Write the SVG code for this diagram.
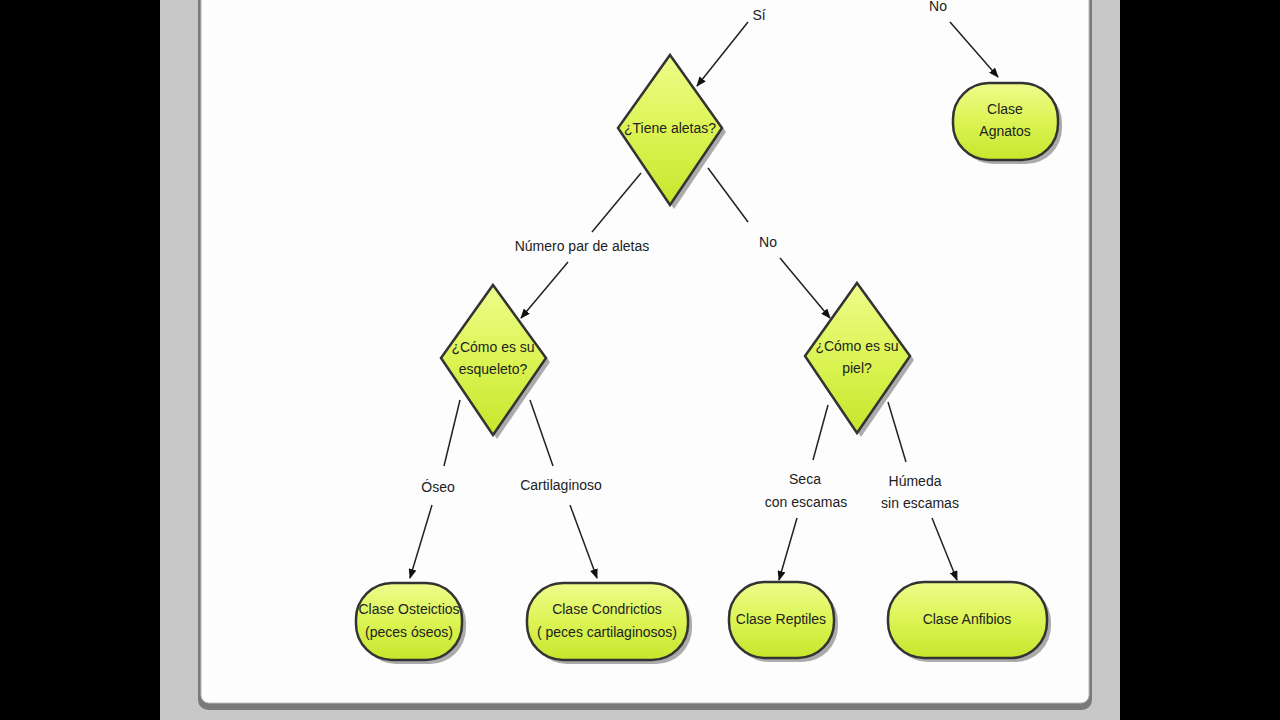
<svg xmlns="http://www.w3.org/2000/svg" width="1280" height="720" viewBox="0 0 1280 720">
<defs>
<linearGradient id="g" x1="0" y1="0" x2="0" y2="1"><stop offset="0" stop-color="#eefc8c"/><stop offset="0.5" stop-color="#dcf454"/><stop offset="1" stop-color="#c6e62c"/></linearGradient>
<marker id="a" markerWidth="10" markerHeight="8" refX="9" refY="4" orient="auto" markerUnits="userSpaceOnUse"><path d="M0,0 L10,4 L0,8 Z" fill="#111"/></marker>
<style>
.n{fill:url(#g);stroke:#333;stroke-width:2.5}
.s{fill:#888;opacity:0.7}
.t{font-family:"Liberation Sans",Arial,sans-serif;font-size:14px;fill:#222;text-anchor:middle}
.c line{stroke:#222;stroke-width:1.5}
</style>
</defs>
<rect width="1280" height="720" fill="#000"/>
<rect x="160" width="960" height="720" fill="#c8c8c8"/>
<rect x="198" y="-10" width="894" height="720" rx="10" fill="#7a7a7a"/>
<rect x="201" y="-10" width="888" height="713" rx="8" fill="#fdfdfd" stroke="#bbb"/>
<g class="c">
<line x1="748" y1="22" x2="697" y2="86" marker-end="url(#a)"/>
<line x1="950" y1="22" x2="998" y2="77" marker-end="url(#a)"/>
<line x1="641" y1="173" x2="592" y2="232"/>
<line x1="568" y1="262" x2="521" y2="318" marker-end="url(#a)"/>
<line x1="708" y1="168" x2="748" y2="222"/>
<line x1="780" y1="258" x2="830" y2="318" marker-end="url(#a)"/>
<line x1="460" y1="400" x2="444" y2="466"/>
<line x1="432" y1="505" x2="410" y2="578" marker-end="url(#a)"/>
<line x1="530" y1="400" x2="553" y2="466"/>
<line x1="570" y1="505" x2="597" y2="578" marker-end="url(#a)"/>
<line x1="828" y1="405" x2="813" y2="460"/>
<line x1="797" y1="518" x2="779" y2="580" marker-end="url(#a)"/>
<line x1="888" y1="402" x2="906" y2="462"/>
<line x1="932" y1="518" x2="957" y2="580" marker-end="url(#a)"/>
<text class="t" x="759" y="20">Sí</text>
<text class="t" x="938" y="11">No</text>
<text class="t" x="582" y="251">Número par de aletas</text>
<text class="t" x="768" y="247">No</text>
<text class="t" x="438" y="492">Óseo</text>
<text class="t" x="561" y="490">Cartilaginoso</text>
<text class="t" x="805" y="484">Seca</text>
<text class="t" x="806" y="507">con escamas</text>
<text class="t" x="915" y="486">Húmeda</text>
<text class="t" x="920" y="508">sin escamas</text>
</g>
<g id="d1"><polygon class="s" points="674,59 726,132 674,209 622,132"/><polygon class="n" points="670,55 722,128 670,205 618,128"/><text class="t" x="670" y="133">¿Tiene aletas?</text></g>
<g id="agnatos"><rect class="s" x="957" y="87" width="105" height="77" rx="36"/><rect class="n" x="953" y="83" width="105" height="77" rx="36"/><text class="t" x="1005" y="114">Clase</text><text class="t" x="1005" y="136">Agnatos</text></g>
<g id="d2"><polygon class="s" points="497,289 550,362 497,439 445,362"/><polygon class="n" points="493,285 546,358 493,435 441,358"/><text class="t" x="493" y="352">¿Cómo es su</text><text class="t" x="493" y="374">esqueleto?</text></g>
<g id="d3"><polygon class="s" points="861,287 914,360 861,437 809,360"/><polygon class="n" points="857,283 910,356 857,433 805,356"/><text class="t" x="857" y="351">¿Cómo es su</text><text class="t" x="857" y="373">piel?</text></g>
<g id="osteictios"><rect class="s" x="360" y="587" width="106" height="77" rx="36"/><rect class="n" x="356" y="583" width="106" height="77" rx="36"/><text class="t" x="409" y="614">Clase Osteictios</text><text class="t" x="409" y="637">(peces óseos)</text></g>
<g id="condrictios"><rect class="s" x="531" y="587" width="161" height="77" rx="36"/><rect class="n" x="527" y="583" width="161" height="77" rx="36"/><text class="t" x="607" y="614">Clase Condrictios</text><text class="t" x="607" y="637">( peces cartilaginosos)</text></g>
<g id="reptiles"><rect class="s" x="733" y="586" width="105" height="76" rx="36"/><rect class="n" x="729" y="582" width="105" height="76" rx="36"/><text class="t" x="781" y="624">Clase Reptiles</text></g>
<g id="anfibios"><rect class="s" x="892" y="586" width="159" height="76" rx="36"/><rect class="n" x="888" y="582" width="159" height="76" rx="36"/><text class="t" x="967" y="624">Clase Anfibios</text></g>
</svg>
